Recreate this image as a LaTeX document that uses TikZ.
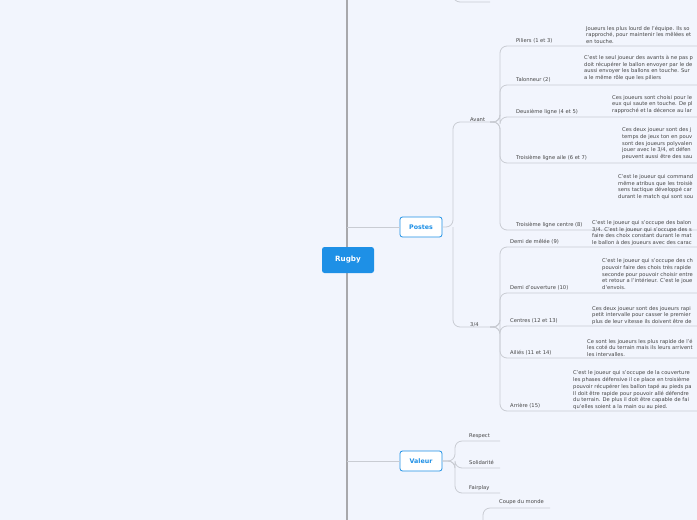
\documentclass[tikz,border=0pt]{standalone}
\usepackage{fontspec}
\setmainfont{DejaVu Sans}
\definecolor{bg}{HTML}{F2F5FD}
\definecolor{ln}{HTML}{C9CCD3}
\definecolor{sp}{HTML}{A8A8AC}
\definecolor{bl}{HTML}{1E90E6}
\definecolor{tx}{HTML}{444444}
\begin{document}
\begin{tikzpicture}[x=1pt,y=-1pt,
  lnk/.style={draw=ln,line width=0.8pt,rounded corners=7pt},
  lab/.style={anchor=base west,inner sep=0pt,font=\fontsize{5.2}{6}\selectfont,text=tx},
  desc/.style={anchor=south west,inner sep=0pt,align=left,font=\fontsize{5.2}{6.8}\selectfont,text=tx},
  main/.style={draw=bl,line width=0.8pt,fill=white,rounded corners=2.5pt,text=bl,font=\fontsize{6.3}{7}\bfseries\selectfont,minimum width=42pt,minimum height=20pt},
  root/.style={fill=bl,rounded corners=2.5pt,text=white,font=\fontsize{7.2}{8}\bfseries\selectfont,minimum width=52pt,minimum height=26pt}]
\useasboundingbox (0,0) rectangle (697,520);
\fill[bg] (0,0) rectangle (697,520);
\clip (0,0) rectangle (697,520);
% spine
\draw[sp,line width=1.2pt] (347,0) -- (347,520);
\node[root] (rugby) at (348,260) {Rugby};
\node[main] (postes) at (421,227) {Postes};
\node[main] (valeur) at (421,461) {Valeur};
\draw[lnk] (347,227) -- (postes.west);
\draw[lnk] (347,461) -- (valeur.west);
% top partial
\draw[lnk] (453,-10) -- (453,2) -- (490,2);
% Avant & 3/4
\node[lab] (avant) at (470,121) {Avant};
\node[lab] (trq) at (470,326) {3/4};
\draw[lnk] (postes.east) -- (453,227) -- (453,122) -- (490,122);
\draw[lnk] (453,227) -- (453,327) -- (490,327);
% Avant children
\foreach \y/\t in {46/Piliers (1 et 3),85/Talonneur (2),117/Deuxième ligne (4 et 5),163/Troisième ligne aile (6 et 7),230/Troisième ligne centre (8)}{
  \draw[lnk] (490,122) -- (500,122) -- (500,\y) -- (697,\y);
  \node[lab] at (516,\y-4) {\t};
}
\foreach \y/\t in {247/Demi de mêlée (9),293/Demi d'ouverture (10),326/Centres (12 et 13),358/Ailiés (11 et 14),411/Arrière (15)}{
  \draw[lnk] (490,327) -- (500,327) -- (500,\y) -- (697,\y);
  \node[lab] at (510,\y-4) {\t};
}
% descriptions
\node[desc] (d1) at (586,44) {Joueurs les plus lourd de l'équipe. Ils so\\rapproché, pour maintenir les mêlées et\\en touche.};
\node[desc] (d2) at (584,81) {C'est le seul joueur des avants à ne pas p\\doit récupérer le ballon envoyer par le de\\aussi envoyer les ballons en touche. Sur\\a le même rôle que les piliers};
\node[desc] (d3) at (612,114) {Ces joueurs sont choisi pour le\\eux qui saute en touche. De pl\\rapproché et la décence au lar};
\node[desc] (d4) at (622,160) {Ces deux joueur sont des j\\temps de jeux ton en pouv\\sont des joueurs polyvalen\\jouer avec le 3/4, et défen\\peuvent aussi être des sau};
\node[desc] (d5) at (618,200) {C'est le joueur qui command\\même atribus que les troisiè\\sens tactique développé car\\durant le match qui sont sou};
\node[desc] (d6) at (592,246) {C'est le joueur qui s'occupe des balon\\3/4. C'est le joueur qui s'occupe des s\\faire des choix constant durant le mat\\le ballon à des joueurs avec des carac};
\node[desc] (d7) at (602,290) {C'est le joueur qui s'occupe des ch\\pouvoir faire des chois très rapide\\seconde pour pouvoir choisir entre\\et retour a l'intérieur. C'est le joue\\d'envois.};
\node[desc] (d8) at (592,325) {Ces deux joueur sont des joueurs rapi\\petit intervalle pour casser le premier\\plus de leur vitesse ils doivent être de};
\node[desc] (d9) at (587,357) {Ce sont les joueurs les plus rapide de l'é\\les coté du terrain mais ils leurs arrivent\\les intervalles.};
\node[desc] (d10) at (573,410) {C'est le joueur qui s'occupe de la couverture\\les phases défensive il ce place en troisième\\pouvoir récupérer les ballon tapé au pieds pa\\Il doit être rapide pour pouvoir allé défendre\\du terrain. De plus il doit être capable de fai\\qu'elles soient a la main ou au pied.};
% Valeur children
\foreach \y/\t in {441/Respect,468/Solidarité,493/Fairplay}{
  \draw[lnk] (valeur.east) -- (455,461) -- (455,\y) -- (500,\y);
  \node[lab] at (469,\y-4) {\t};
}
% Coupe du monde
\node[lab] (cdm) at (499,503) {Coupe du monde};
\draw[lnk] (483,530) -- (483,508) -- (550,508);
\end{tikzpicture}
\end{document}
